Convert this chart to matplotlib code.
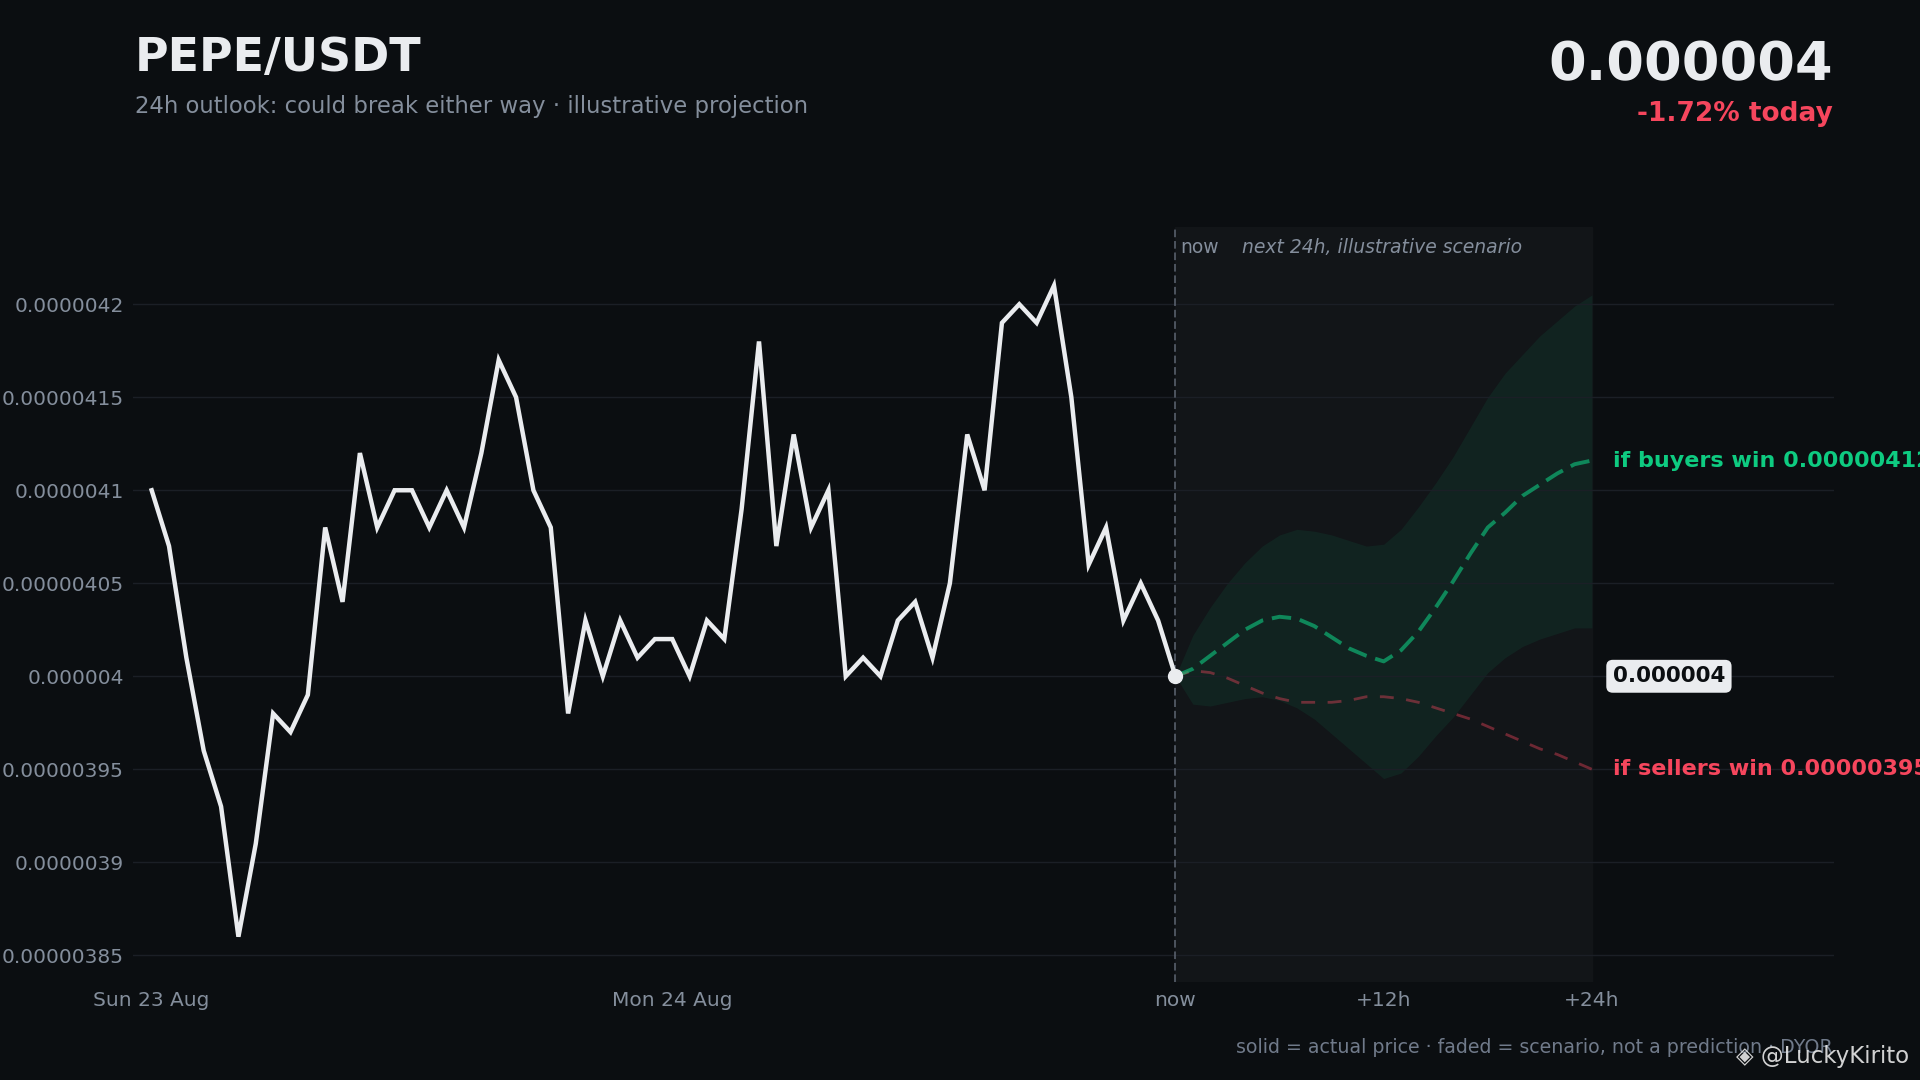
import matplotlib
matplotlib.use("Agg")
import matplotlib.pyplot as plt
from matplotlib.ticker import FuncFormatter
import matplotlib.transforms as mtransforms

# prices in millionths of USDT (x 1e-6)
price = [4.10, 4.07, 4.01, 3.96, 3.93, 3.86, 3.91, 3.98, 3.97, 3.99,
         4.08, 4.04, 4.12, 4.08, 4.10, 4.10, 4.08, 4.10, 4.08, 4.12,
         4.17, 4.15, 4.10, 4.08, 3.98, 4.03, 4.00, 4.03, 4.01, 4.02,
         4.02, 4.00, 4.03, 4.02, 4.09, 4.18, 4.07, 4.13, 4.08, 4.10,
         4.00, 4.01, 4.00, 4.03, 4.04, 4.01, 4.05, 4.13, 4.10, 4.19,
         4.20, 4.19, 4.21, 4.15, 4.06, 4.08, 4.03, 4.05, 4.03, 4.00]

# next 24h scenario, hourly (x 1e-6)
bull = [4.000, 4.004, 4.011, 4.018, 4.025, 4.030, 4.032, 4.031, 4.027, 4.021,
        4.015, 4.011, 4.008, 4.014, 4.024, 4.037, 4.051, 4.066, 4.080, 4.088,
        4.097, 4.103, 4.109, 4.114, 4.116]
bear = [4.000, 4.003, 4.002, 3.999, 3.995, 3.991, 3.988, 3.986, 3.986, 3.986,
        3.987, 3.989, 3.989, 3.988, 3.986, 3.983, 3.980, 3.977, 3.973, 3.969,
        3.965, 3.961, 3.958, 3.954, 3.950]
band_hi = [4.000, 4.022, 4.037, 4.050, 4.061, 4.070, 4.076, 4.079, 4.078, 4.076,
           4.073, 4.070, 4.071, 4.079, 4.091, 4.104, 4.118, 4.134, 4.150, 4.163,
           4.173, 4.183, 4.191, 4.199, 4.205]
band_lo = [4.000, 3.985, 3.984, 3.986, 3.988, 3.989, 3.987, 3.983, 3.977, 3.969,
           3.961, 3.953, 3.945, 3.948, 3.957, 3.968, 3.978, 3.990, 4.002, 4.010,
           4.016, 4.020, 4.023, 4.026, 4.026]

x_ticks = [0, 30, 59, 71, 83]
x_tick_labels = ["Sun 23 Aug", "Mon 24 Aug", "now", "+12h", "+24h"]
y_ticks = [3.85, 3.90, 3.95, 4.00, 4.05, 4.10, 4.15, 4.20]

last_price = "0.000004"
change_txt = "-1.72% today"
bull_target = "0.00000412"
bear_target = "0.00000395"

BG = "#0b0e11"
PANEL = "#121518"
WHITE = "#eaecef"
GREY = "#848e9c"
GREEN = "#0ecb81"
RED = "#f6465d"
U = 1e-6

n = len(price)
xs = list(range(n))
now = n - 1
xf = [now + i for i in range(len(bull))]

fig = plt.figure(figsize=(19.2, 10.8), dpi=100, facecolor=BG)
ax = fig.add_axes([0.0695, 0.0905, 0.8857, 0.6996])
ax.set_facecolor(BG)

ax.axvspan(now, xf[-1], color=PANEL, zorder=0)
ax.fill_between(xf, [v * U for v in band_lo], [v * U for v in band_hi],
                color=GREEN, alpha=0.08, lw=0, zorder=1)
ax.plot(xf, [v * U for v in bear], color=RED, alpha=0.4, lw=2.0,
        linestyle=(0, (5, 4.5)), zorder=2)
ax.plot(xf, [v * U for v in bull], color=GREEN, alpha=0.6, lw=2.8,
        linestyle=(0, (5, 2.3)), zorder=2)
ax.axvline(now, color="#5e6673", lw=1.1, linestyle=(0, (5, 2.5)), zorder=2)
ax.plot(xs, [v * U for v in price], color=WHITE, lw=3.2, zorder=4,
        solid_joinstyle="miter")
ax.plot([now], [price[-1] * U], "o", color=WHITE, ms=10, zorder=5)

ax.set_xlim(-1.05, 96.95)
ax.set_ylim(3.8355e-6, 4.2417e-6)
ax.set_yticks([v * U for v in y_ticks])
ax.yaxis.set_major_formatter(FuncFormatter(lambda v, p: f"{v:.8f}".rstrip("0")))
ax.set_xticks(x_ticks)
ax.set_xticklabels(x_tick_labels)
ax.grid(axis="y", color="#1b1f26", lw=1, zorder=0.5)
ax.tick_params(colors=GREY, labelsize=14.5, length=0, pad=7)
ax.tick_params(axis="x", pad=6)
for s in ax.spines.values():
    s.set_visible(False)

trans = mtransforms.blended_transform_factory(ax.transData, ax.transAxes)
ax.text(now + 0.3, 0.973, "now", transform=trans, color=GREY, fontsize=13.5,
        va="center", ha="left")
ax.text(62.85, 0.973, "next 24h, illustrative scenario", transform=trans,
        color=GREY, fontsize=13.5, style="italic", va="center", ha="left")

lx = xf[-1] + 1.2
ax.text(lx, bull[-1] * U, "if buyers win " + bull_target, color=GREEN,
        fontsize=16, fontweight="bold", va="center", ha="left", clip_on=False)
ax.text(lx, bear[-1] * U, "if sellers win " + bear_target, color=RED,
        fontsize=16, fontweight="bold", va="center", ha="left", clip_on=False)
ax.text(lx, price[-1] * U, last_price, color=BG, fontsize=15.5,
        fontweight="bold", va="center", ha="left",
        bbox=dict(boxstyle="round,pad=0.3,rounding_size=0.3", fc=WHITE, ec="none"))

fig.text(0.0702, 0.934, "PEPE/USDT", color=WHITE, fontsize=33,
         fontweight="bold", ha="left", va="baseline")
fig.text(0.0702, 0.8955, "24h outlook: could break either way \u00b7 illustrative projection",
         color=GREY, fontsize=16.4, ha="left", va="baseline")
fig.text(0.9547, 0.926, last_price, color=WHITE, fontsize=39,
         fontweight="bold", ha="right", va="baseline")
fig.text(0.9547, 0.888, change_txt, color=RED, fontsize=19,
         fontweight="bold", ha="right", va="baseline")
fig.text(0.9547, 0.025, "solid = actual price \u00b7 faded = scenario, not a prediction \u00b7 DYOR",
         color="#707a8a", fontsize=13.7, ha="right", va="baseline")
fig.text(0.9945, 0.016, "\u25c8 @LuckyKirito", color="#e8e8e8", fontsize=16.5,
         ha="right", va="baseline", alpha=0.9)

fig.savefig("out.png", dpi=100, facecolor=BG)
